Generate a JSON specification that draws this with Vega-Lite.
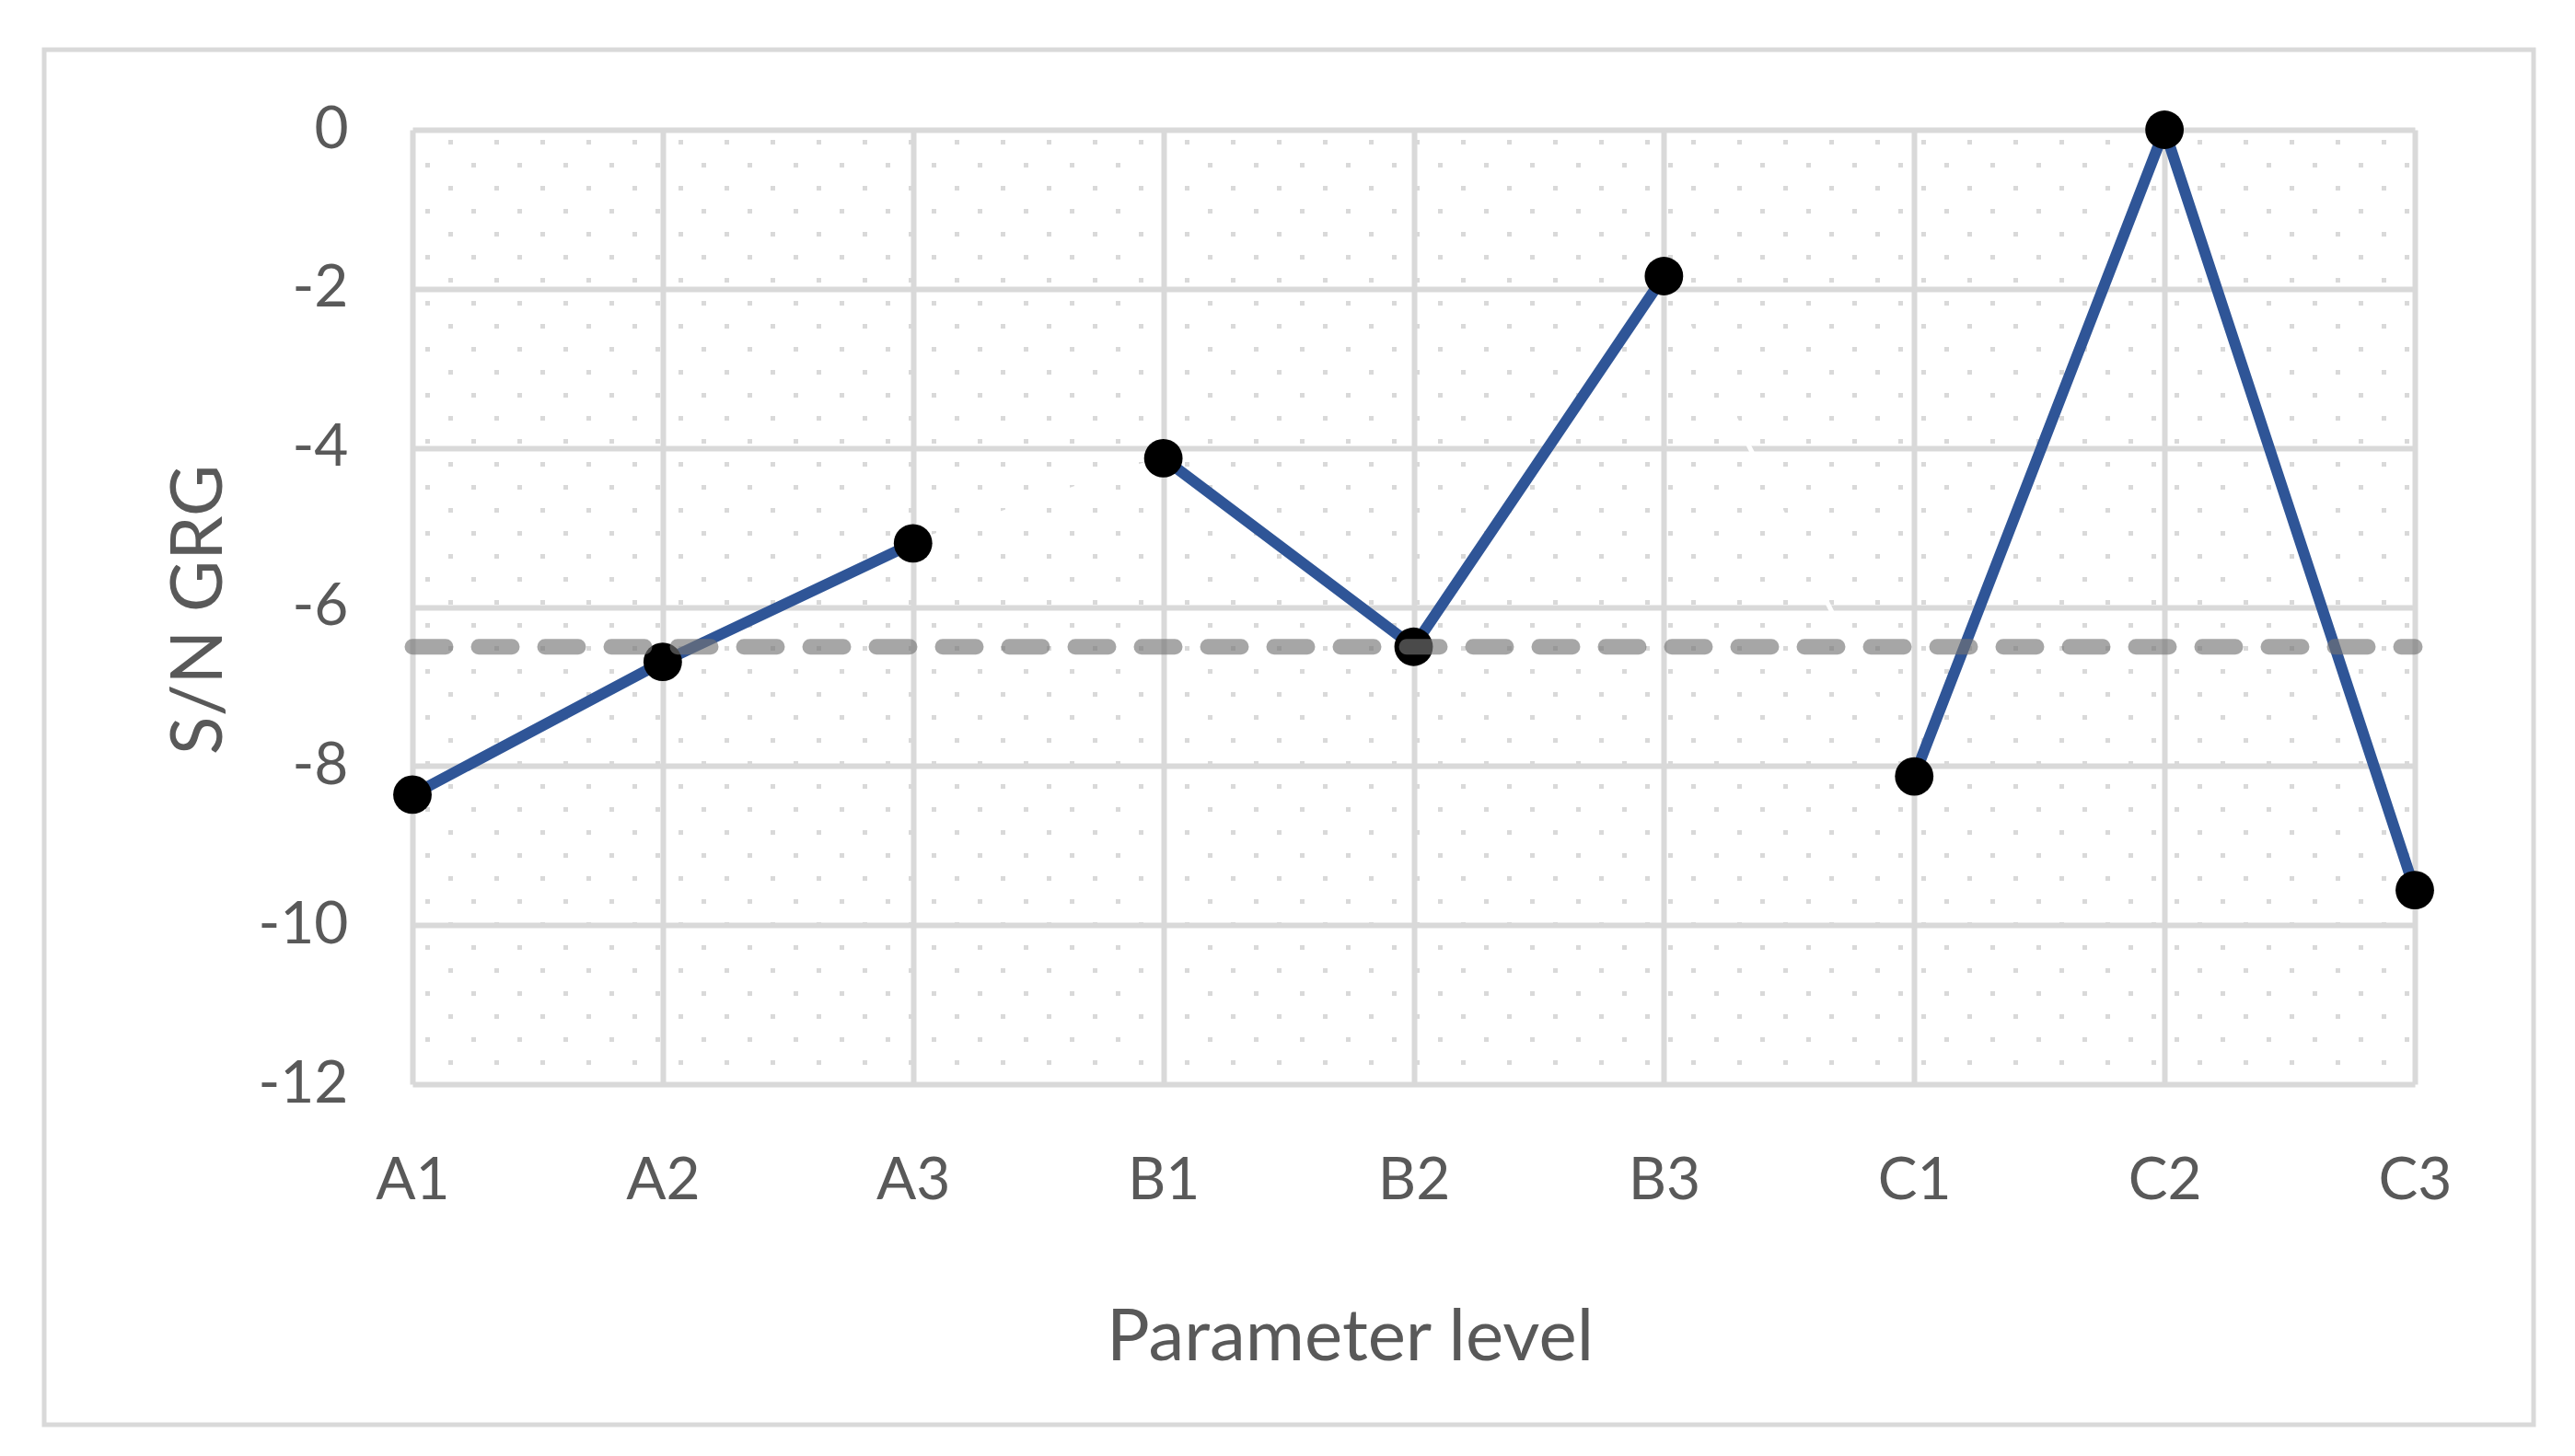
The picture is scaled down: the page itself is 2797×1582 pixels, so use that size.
{
  "$schema": "https://vega.github.io/schema/vega-lite/v6.json",
  "width": 2704,
  "height": 1494,
  "autosize": {"type": "none"},
  "padding": {"left": 48, "top": 54, "right": 45, "bottom": 34},
  "background": "white",
  "config": {
    "view": {"stroke": "#d9d9d9", "strokeWidth": 5},
    "font": "Lato"
  },
  "datasets": {
    "sn": [
      {"level": "A1", "factor": "A", "sn": -8.36},
      {"level": "A2", "factor": "A", "sn": -6.69},
      {"level": "A3", "factor": "A", "sn": -5.2},
      {"level": "B1", "factor": "B", "sn": -4.13},
      {"level": "B2", "factor": "B", "sn": -6.5},
      {"level": "B3", "factor": "B", "sn": -1.84},
      {"level": "C1", "factor": "C", "sn": -8.13},
      {"level": "C2", "factor": "C", "sn": 0},
      {"level": "C3", "factor": "C", "sn": -9.56}
    ],
    "mean": [
      {"level": "A1", "level_end": "C3", "sn": -6.5}
    ]
  },
  "data": {"name": "sn"},
  "encoding": {
    "x": {
      "field": "level",
      "type": "nominal",
      "scale": {"type": "point", "padding": 0, "range": [400, 2575]},
      "axis": {
        "orient": "top",
        "offset": -1260,
        "title": "Parameter level",
        "grid": true,
        "gridColor": "#d9d9d9",
        "gridWidth": 6,
        "domain": false,
        "ticks": false,
        "tickSize": 0,
        "labelAngle": 0,
        "labelPadding": 12,
        "labelBaseline": "alphabetic",
        "labelFont": "Lato",
        "labelFontSize": 64,
        "labelColor": "#595959",
        "titleFont": "Lato",
        "titleFontSize": 78,
        "titleFontWeight": "normal",
        "titleColor": "#595959",
        "titleX": 1418,
        "titleY": 140,
        "titleAlign": "center",
        "titleBaseline": "middle"
      }
    }
  },
  "layer": [
    {
      "mark": {"type": "line", "color": "white", "strokeWidth": 5},
      "encoding": {
        "y": {
          "field": "sn",
          "type": "quantitative",
          "scale": {"domain": [-12, 0], "range": [1124, 87], "nice": false, "zero": false},
          "axis": {
            "orient": "left",
            "title": null,
            "labels": false,
            "ticks": false,
            "domain": false,
            "grid": true,
            "gridColor": "#d9d9d9",
            "gridWidth": 5,
            "gridDash": [5, 45],
            "gridDashOffset": {
              "condition": {"test": "round((-datum.value - 0.1504) / 0.2893) % 2 == 0", "value": 11.5},
              "value": 36.5
            },
            "values": [-0.150, -0.440, -0.729, -1.018, -1.307, -1.597, -1.886, -2.175, -2.465, -2.754, -3.043, -3.333, -3.622, -3.911, -4.200, -4.490, -4.779, -5.068, -5.358, -5.647, -5.936, -6.225, -6.515, -6.804, -7.093, -7.383, -7.672, -7.961, -8.250, -8.540, -8.829, -9.118, -9.408, -9.697, -9.986, -10.276, -10.565, -10.854, -11.144, -11.433, -11.722]
          }
        }
      }
    },
    {
      "mark": {"type": "line", "color": "#2F5597", "strokeWidth": 12, "strokeJoin": "round"},
      "encoding": {
        "detail": {"field": "factor", "type": "nominal"},
        "y": {
          "field": "sn",
          "type": "quantitative",
          "axis": {
            "orient": "left",
            "offset": -330,
            "values": [-12, -10, -8, -6, -4, -2, 0],
            "labelExpr": "'' + datum.value",
            "title": "S/N GRG",
            "grid": true,
            "gridColor": "#d9d9d9",
            "gridWidth": 6,
            "domain": false,
            "ticks": false,
            "tickSize": 0,
            "labelPadding": 0,
            "labelFont": "Lato",
            "labelFontSize": 64,
            "labelColor": "#595959",
            "titleFont": "Lato",
            "titleFontSize": 77,
            "titleFontWeight": "normal",
            "titleColor": "#595959",
            "titleX": -161,
            "titleY": 608,
            "titleAlign": "center",
            "titleBaseline": "middle"
          }
        }
      }
    },
    {
      "mark": {"type": "circle", "size": 1750, "color": "black", "opacity": 1},
      "encoding": {
        "y": {"field": "sn", "type": "quantitative", "axis": null}
      }
    },
    {
      "data": {"name": "mean"},
      "mark": {
        "type": "rule",
        "color": "#737373",
        "strokeOpacity": 0.64,
        "strokeWidth": 17,
        "strokeDash": [36, 36],
        "strokeCap": "round"
      },
      "encoding": {
        "x2": {"field": "level_end"},
        "y": {"field": "sn", "type": "quantitative", "axis": null}
      }
    }
  ],
  "resolve": {"axis": {"y": "independent"}}
}
